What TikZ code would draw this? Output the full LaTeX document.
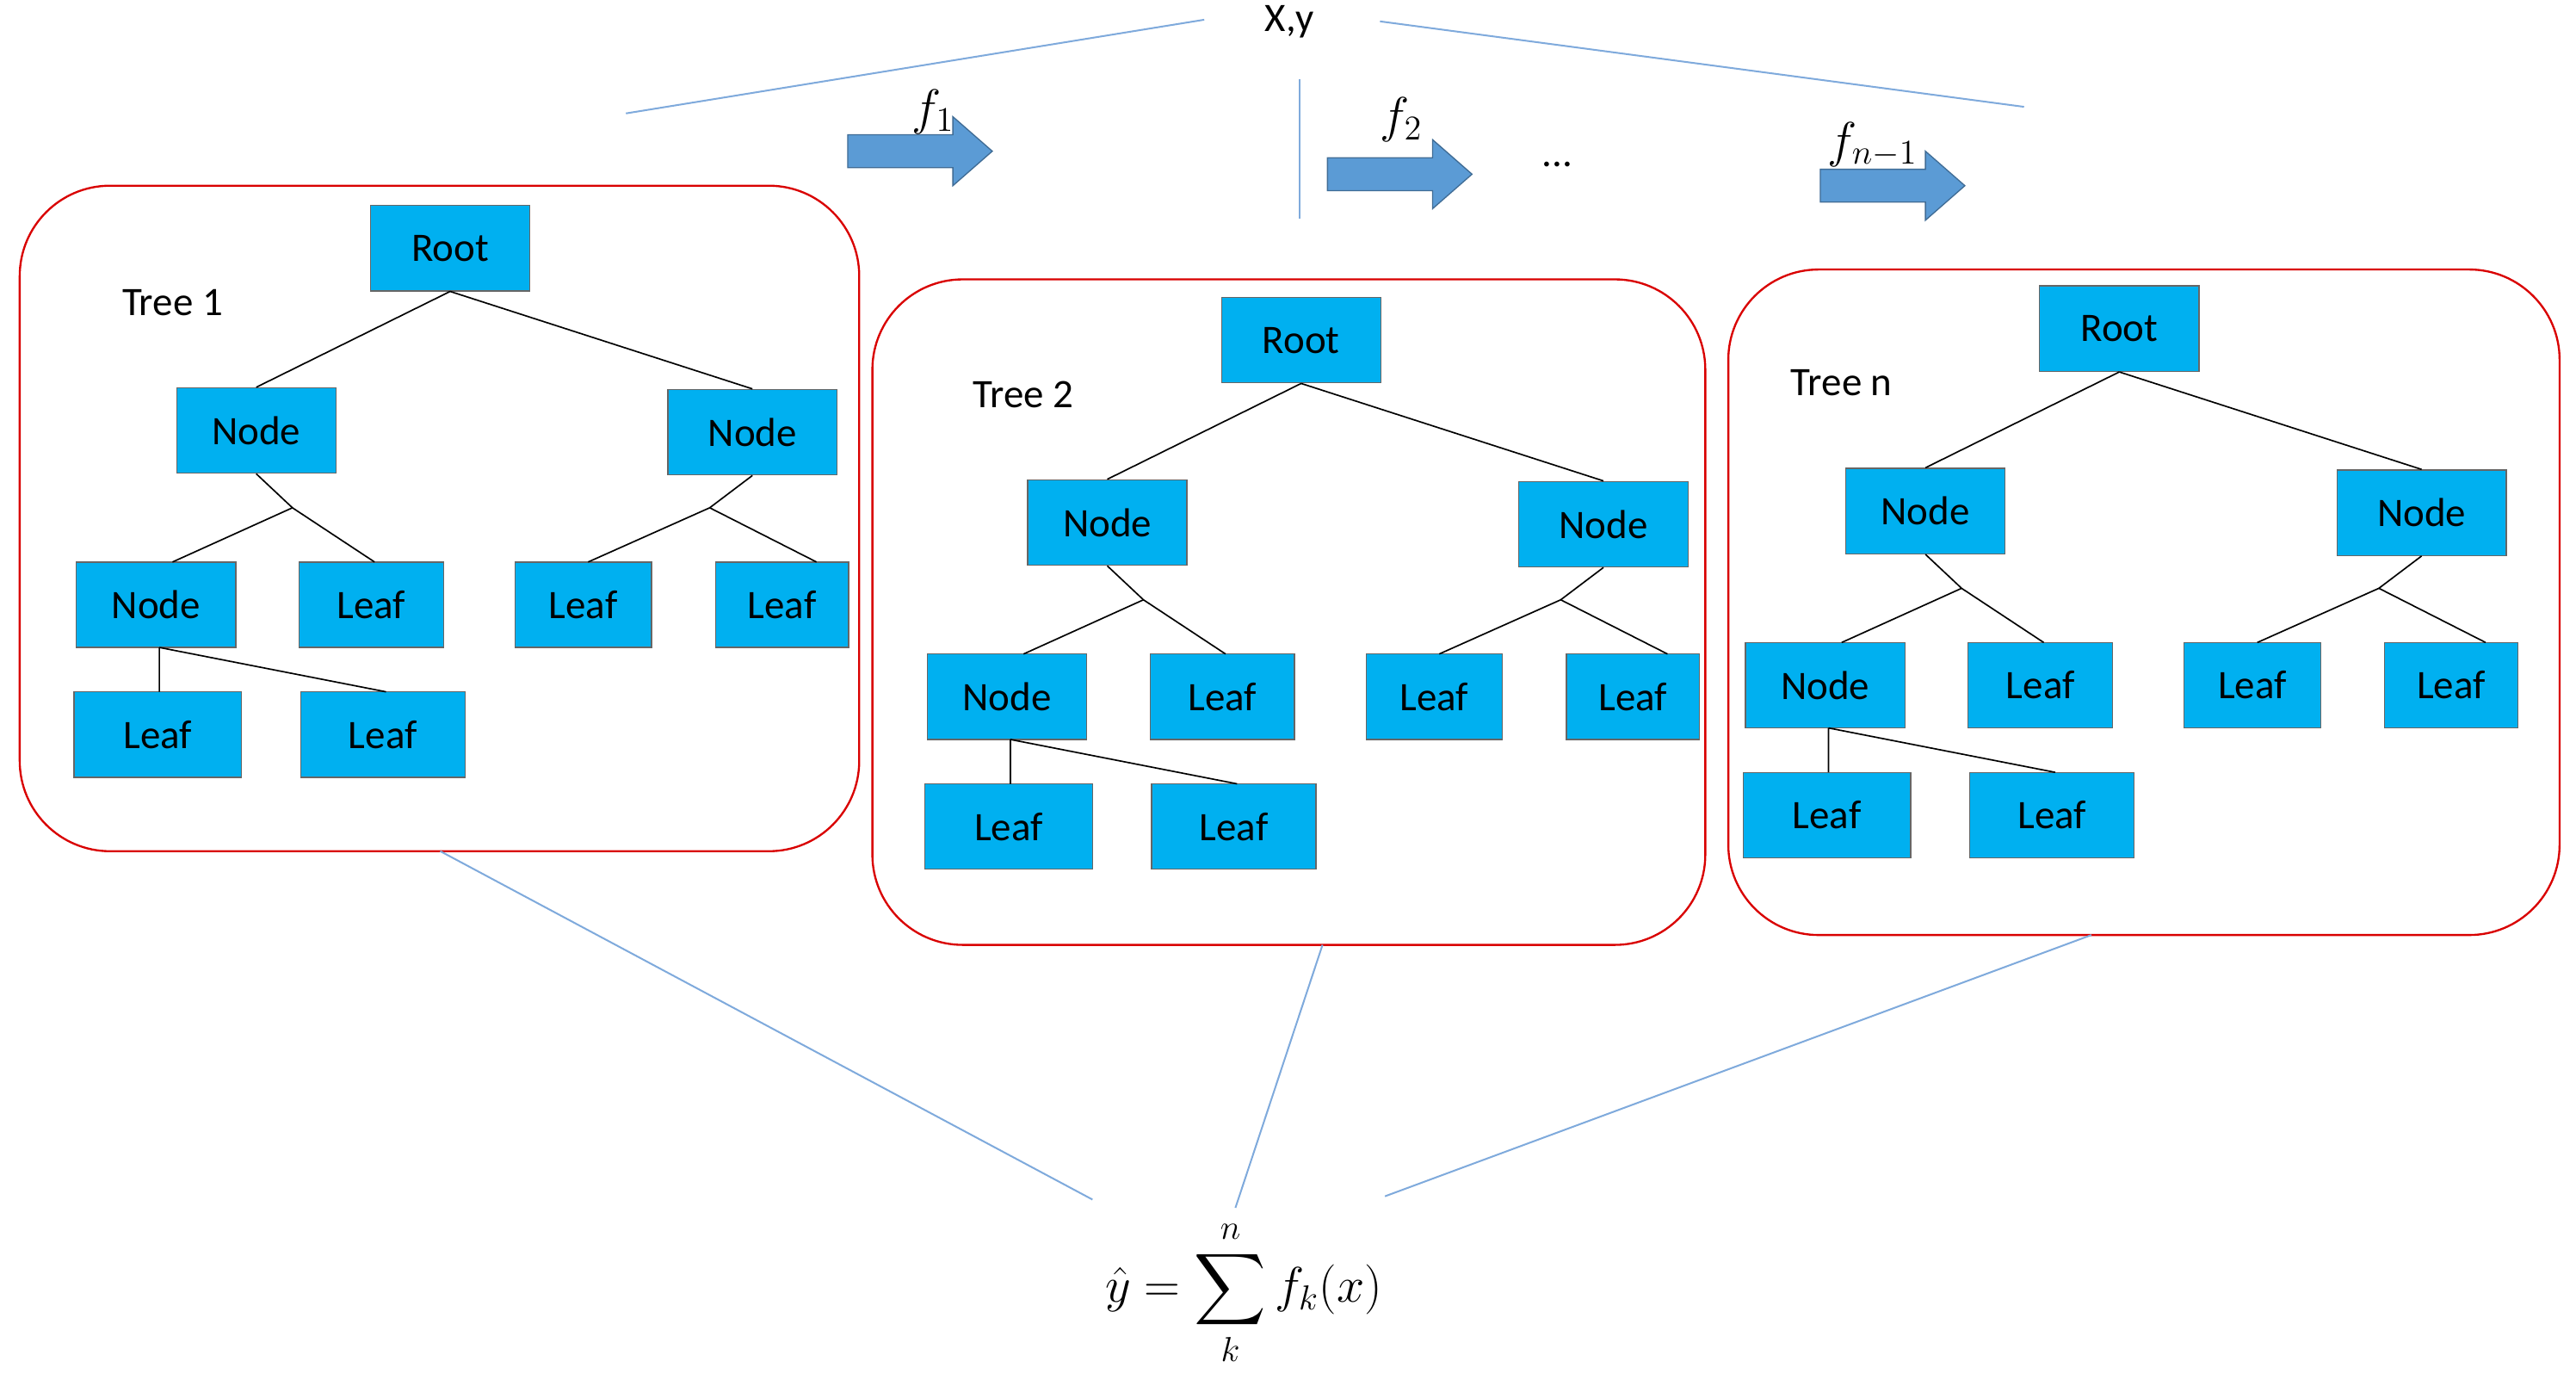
\documentclass[tikz,border=0pt]{standalone}
\usepackage{amsmath}
\usepackage{fontspec}
\setmainfont{Carlito}
\definecolor{bfill}{HTML}{00B0F0}
\definecolor{lblue}{HTML}{7FAADC}
\definecolor{afill}{HTML}{5B9BD5}
\begin{document}
\begin{tikzpicture}[x=0.02cm,y=-0.02cm,
  bx/.style={draw=black!60,line width=0.4pt,fill=bfill,minimum height=1.04cm,inner sep=0pt,font=\fontsize{14}{16}\selectfont},
  tree/.style={draw=red!85!black,line width=0.7pt,rounded corners=1.1cm},
  ed/.style={line width=0.5pt},
  con/.style={draw=lblue,line width=0.6pt},
  lab/.style={font=\fontsize{14}{16}\selectfont},
  barr/.style={draw=afill!70!black,fill=afill,line width=0.4pt}]
\useasboundingbox (0,0) rectangle (1568,843);
\draw[tree] (12,113) rectangle (523,518);
\draw[tree] (531,170) rectangle (1038,575);
\draw[tree] (1052,164) rectangle (1558,569);
\foreach \dx/\dy/\t/\nm in {0/0/1/a,518/56/2/b,1016/49/n/c}{
\begin{scope}[shift={(\dx,\dy)}]
\node[lab] (\nm t) at (105,184) {Tree \t};
\node[bx,minimum width=1.94cm] (\nm r) at (274,151) {Root};
\node[bx,minimum width=1.94cm] (\nm n1) at (156,262) {Node};
\node[bx,minimum width=2.06cm] (\nm n2) at (458,263) {Node};
\node[bx,minimum width=1.94cm] (\nm n3) at (95,368) {Node};
\node[bx,minimum width=1.76cm] (\nm l1) at (226,368) {Leaf};
\node[bx,minimum width=1.66cm] (\nm l2) at (355,368) {Leaf};
\node[bx,minimum width=1.62cm] (\nm l3) at (476,368) {Leaf};
\node[bx,minimum width=2.04cm] (\nm l4) at (96,447) {Leaf};
\node[bx,minimum width=2.0cm] (\nm l5) at (233,447) {Leaf};
\coordinate (\nm j1) at (178,309);
\coordinate (\nm j2) at (432,309);
\coordinate (\nm j3) at (97,394);
\draw[ed] (\nm r.south) -- (\nm n1.north);
\draw[ed] (\nm r.south) -- (\nm n2.north);
\draw[ed] (\nm n1.south) -- (\nm j1);
\draw[ed] (\nm j1) -- (105,342) (\nm j1) -- (228,342);
\draw[ed] (\nm n2.south) -- (\nm j2);
\draw[ed] (\nm j2) -- (358,342) (\nm j2) -- (497,342);
\draw[ed] (\nm j3) -- (97,421) (\nm j3) -- (235,421);
\end{scope}}
\node[lab] (xy) at (785,13) {X,y};
\draw[con] (381,69) -- (733,12);
\draw[con] (840,13) -- (1232,65);
\draw[con] (791,48) -- (791,133);
\node (sum) at (757,787) {\fontsize{17}{20}\selectfont$\displaystyle\hat{y}=\sum_{k}^{n} f_k(x)$};
\draw[con] (268,518) -- (665,730);
\draw[con] (805,575) -- (752,735);
\draw[con] (1273,569) -- (843,728);
\foreach \x/\y in {516/92,808/106,1108/113}
  \draw[barr] (\x,\y-10) -- (\x+64,\y-10) -- (\x+64,\y-21) -- (\x+88,\y) -- (\x+64,\y+21) -- (\x+64,\y+10) -- (\x,\y+10) -- cycle;
\node[font=\fontsize{17}{20}\selectfont] (f1) at (568,68) {$f_1$};
\node[font=\fontsize{17}{20}\selectfont] (f2) at (853,73) {$f_2$};
\node[font=\fontsize{17}{20}\selectfont] (f3) at (1140,88) {$f_{n-1}$};
\node[lab] (dots) at (948,100) {...};
\end{tikzpicture}
\end{document}
